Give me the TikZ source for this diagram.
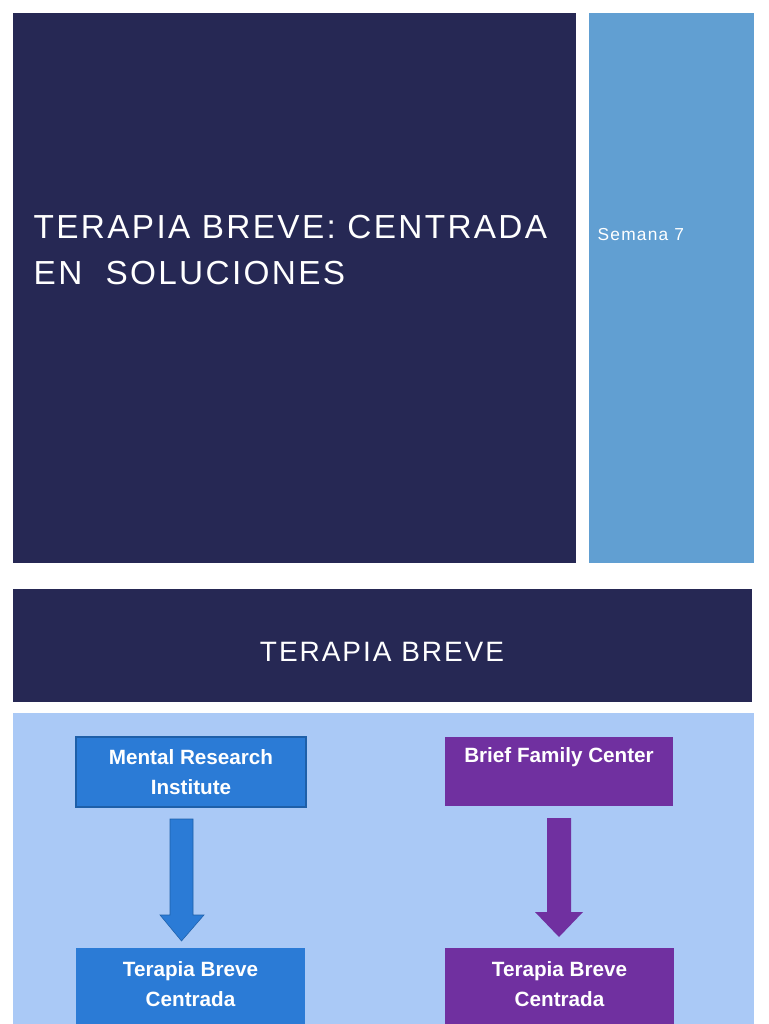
\documentclass[tikz,border=0pt]{standalone}
\usepackage{fontspec}
\setmainfont{Liberation Sans}
\newfontfamily\spaced[LetterSpace=7]{Liberation Sans}
\definecolor{navy}{HTML}{262854}
\definecolor{sideblue}{HTML}{619FD2}
\definecolor{panel}{HTML}{AAC9F6}
\definecolor{bbox}{HTML}{2B7BD6}
\definecolor{bedge}{HTML}{1E5FA8}
\definecolor{pbox}{HTML}{7030A0}
\tikzset{
  flowbox/.style={draw=#1, line width=1pt, fill=#1},
  flowtext/.style={text=white, font=\bfseries\fontsize{15.5}{23}\selectfont, align=center, inner sep=0pt},
}
\begin{document}
\begin{tikzpicture}[x=0.75pt,y=-0.75pt]
\useasboundingbox (0,0) rectangle (768,1024);
\clip (0,0) rectangle (768,1024);
\fill[white] (0,0) rectangle (768,1024);
\fill[navy] (13,13) rectangle (576,563);
\fill[sideblue] (589,13) rectangle (754,563);
\node[anchor=west, text=white, align=left, font=\spaced\fontsize{25}{35}\selectfont] (title) at (29,250) {TERAPIA BREVE: CENTRADA\\EN \ SOLUCIONES};
\node[anchor=west, text=white, font=\spaced\fontsize{13}{15}\selectfont] (sem) at (593,235) {Semana 7};
\fill[navy] (13,589) rectangle (752,702);
\node[text=white, font=\spaced\fontsize{21}{25}\selectfont] (tb) at (382,652) {TERAPIA BREVE};
\fill[panel] (13,713) rectangle (754,1040);
\draw[flowbox=bbox, draw=bedge] (76,737) rectangle (306,807);
\node[flowtext] (mri) at (191,772) {Mental Research\\Institute};
\fill[pbox] (445,737) rectangle (673,806);
\node[flowtext] (bfc) at (559,757) {Brief Family Center};
\fill[bbox] (76,948) rectangle (305,1040);
\node[flowtext] (t1) at (190.5,984) {Terapia Breve\\Centrada};
\fill[pbox] (445,948) rectangle (674,1040);
\node[flowtext] (t2) at (559.5,984) {Terapia Breve\\Centrada};
\fill[bbox, draw=bedge] (170,819) -- (193,819) -- (193,915) -- (204,915) -- (181.5,941) -- (160,915) -- (170,915) -- cycle;
\fill[pbox] (547,818) -- (571,818) -- (571,912) -- (583,912) -- (559,937) -- (535,912) -- (547,912) -- cycle;
\end{tikzpicture}
\end{document}
